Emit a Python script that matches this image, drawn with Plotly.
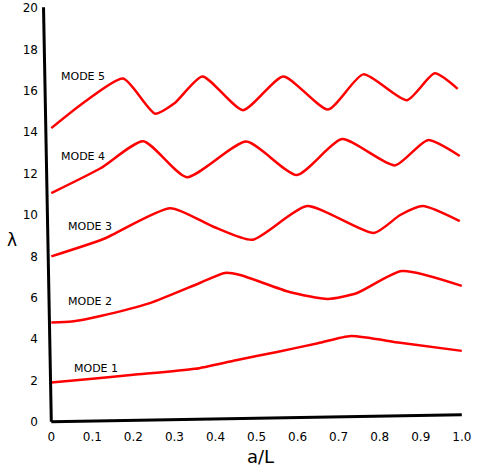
import plotly.graph_objects as go

# values
mode1_x = [0, 0.1, 0.2, 0.35, 0.45, 0.55, 0.65, 0.73, 0.85, 1.0]
mode1_y = [1.9, 2.08, 2.27, 2.56, 2.98, 3.38, 3.8, 4.15, 3.82, 3.43]

mode2_x = [0, 0.05, 0.12, 0.24, 0.36, 0.423, 0.46, 0.58, 0.674, 0.745, 0.854, 1.0]
mode2_y = [4.8, 4.85, 5.12, 5.74, 6.7, 7.2, 7.1, 6.28, 5.94, 6.23, 7.29, 6.57]

mode3_x = [0, 0.127, 0.29, 0.395, 0.49, 0.623, 0.786, 0.85, 0.905, 0.995]
mode3_y = [8.0, 8.84, 10.33, 9.43, 8.8, 10.43, 9.13, 10.0, 10.43, 9.7]

mode4_x = [0, 0.12, 0.224, 0.33, 0.475, 0.598, 0.708, 0.837, 0.917, 0.995]
mode4_y = [11.06, 12.26, 13.57, 11.83, 13.55, 11.93, 13.67, 12.4, 13.62, 12.85]

mode5_x = [0, 0.08, 0.175, 0.253, 0.3, 0.368, 0.467, 0.565, 0.674, 0.76, 0.866, 0.934, 0.99]
mode5_y = [14.2, 15.45, 16.6, 14.9, 15.4, 16.7, 15.07, 16.7, 15.1, 16.8, 15.55, 16.85, 16.1]

labels = ["MODE 1", "MODE 2", "MODE 3", "MODE 4", "MODE 5"]
label_x = [0.11, 0.094, 0.094, 0.078, 0.076]
label_y = [2.6, 5.8, 9.42, 12.85, 16.7]

x_ticks = [0, 0.1, 0.2, 0.3, 0.4, 0.5, 0.6, 0.7, 0.8, 0.9, 1.0]
x_ticktext = ["0", "0.1", "0.2", "0.3", "0.4", "0.5", "0.6", "0.7", "0.8", "0.9", "1.0"]
y_ticks = list(range(0, 21, 2))

font = "DejaVu Sans"

fig = go.Figure()
for xs, ys in [(mode1_x, mode1_y), (mode2_x, mode2_y), (mode3_x, mode3_y),
               (mode4_x, mode4_y), (mode5_x, mode5_y)]:
    fig.add_trace(go.Scatter(x=xs, y=ys, mode="lines",
                             line=dict(color="#ff0000", width=2.5,
                                       shape="spline", smoothing=0.6),
                             showlegend=False, cliponaxis=False))

for t, lx, ly in zip(labels, label_x, label_y):
    fig.add_annotation(x=lx, y=ly, text=t, showarrow=False,
                       font=dict(family=font, size=11, color="black"))

# hand-drawn looking axes
fig.add_shape(type="line", x0=0, y0=0, x1=1.0, y1=0.34, xref="x", yref="y",
              line=dict(color="black", width=3))
fig.add_shape(type="line", x0=0, y0=0, x1=-0.019, y1=20.05, xref="x", yref="y",
              line=dict(color="black", width=3))

fig.add_annotation(x=0.513, y=-0.0675, xref="paper", yref="paper", text="a/L",
                   xanchor="center", yanchor="middle", showarrow=False,
                   font=dict(family=font, size=18, color="black"))
fig.add_annotation(x=-0.063, y=0.441, xref="paper", yref="paper", text="λ",
                   xanchor="center", yanchor="middle", showarrow=False,
                   font=dict(family=font, size=17, color="black"))

fig.update_xaxes(range=[-0.03, 1.02], tickvals=x_ticks, ticktext=x_ticktext,
                 showgrid=False, zeroline=False, showline=False, ticks="",
                 automargin=False,
                 tickfont=dict(family=font, size=12, color="black"))
fig.update_yaxes(range=[-0.3, 20.3], tickvals=y_ticks,
                 showgrid=False, zeroline=False, showline=False, ticks="",
                 automargin=False,
                 tickfont=dict(family=font, size=12, color="black"))

fig.update_layout(width=479, height=474,
                  margin=dict(l=39, r=9, t=2, b=46),
                  plot_bgcolor="white", paper_bgcolor="white")

# drop the browser's default page margin so the figure sits at the corner
fig.write_html("out.html", config={"displayModeBar": False},
               post_script="document.body.style.margin='0';")
